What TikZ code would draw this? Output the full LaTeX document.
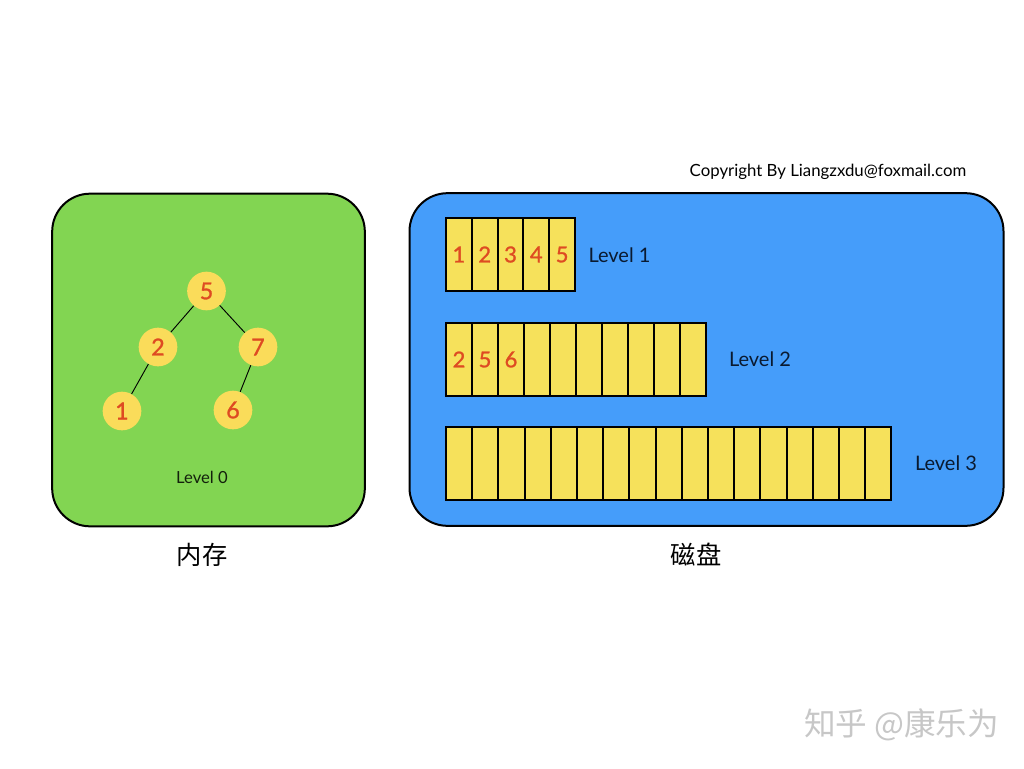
\documentclass[tikz,border=0pt]{standalone}
\usepackage{fontspec}
\setmainfont{Lato}
\newfontfamily\cjk{Noto Sans CJK SC}
\newfontfamily\numfont[FakeBold=1.2]{Lato}
\usetikzlibrary{positioning}
\definecolor{memgreen}{HTML}{82D552}
\definecolor{diskblue}{HTML}{459DFA}
\definecolor{celly}{HTML}{F6E15B}
\definecolor{nodey}{HTML}{FADC5A}
\definecolor{numred}{HTML}{DE4B22}
\definecolor{leveltxt}{HTML}{0A1A30}
\tikzset{panel/.style={rectangle,draw,line width=1.5pt,rounded corners=28.5pt,inner sep=0pt}}
\tikzset{cell/.style={rectangle,draw,line width=1.4pt,fill=celly,inner sep=0pt,minimum height=54.8pt,text=numred,font=\numfont\fontsize{16.5}{18}\selectfont}}
\tikzset{nd/.style={circle,fill=nodey,inner sep=0pt,minimum size=29pt,text=numred,font=\numfont\fontsize{17.5}{19}\selectfont}}
\tikzset{lvl/.style={inner sep=0pt,text=leveltxt,font=\fontsize{15}{17}\selectfont}}
\tikzset{title/.style={inner sep=0pt,font=\cjk\fontsize{19}{22}\selectfont}}
\begin{document}
\begin{tikzpicture}[x=0.75pt,y=-0.75pt]
  \useasboundingbox (0,0) rectangle (1024,768);

  \def\x{446};

  % panels
  \node[panel,fill=memgreen,minimum width=234.5pt,minimum height=249.5pt] (mem) at (208.5,360) {};
  \node[panel,fill=diskblue,minimum width=445.5pt,minimum height=249.5pt] (disk) at (706.5,359.5) {};

  % tree
  \node[nd] (n5) at (206.5,291) {5};
  \node[nd] (n2) at (158,347) {2};
  \node[nd] (n7) at (258,347) {7};
  \node[nd] (n1) at (122,411) {1};
  \node[nd] (n6) at (233,410) {6};
  \foreach \a/\b in {n5/n2,n5/n7,n2/n1,n7/n6} {
    \draw[line width=0.7pt] (\a) -- (\b);
  }
  \node[lvl,font=\fontsize{12.5}{14}\selectfont,text=black!85!memgreen] (lv0) at (202,477) {Level 0};

  % levels on disk
  \foreach \i/\num in {0/1,1/2,2/3,3/4,4/5} {
    \node[cell,minimum width=19.35pt] (a\i) at (\x+\i*25.8+12.9,254.5) {\num};
  }
  \foreach \i/\num in {0/2,1/5,2/6,3/,4/,5/,6/,7/,8/,9/} {
    \node[cell,minimum width=19.5pt] (b\i) at (\x+\i*26+13,359.5) {\num};
  }
  \foreach \i in {0,...,16} {
    \node[cell,minimum width=19.65pt] (c\i) at (\x+\i*26.2+13.1,463.5) {};
  }
  \node[lvl] (lv1) at (619.5,255) {Level 1};
  \node[lvl] (lv2) at (760,359) {Level 2};
  \node[lvl] (lv3) at (946,463.5) {Level 3};

  % captions
  \node[title] (memcap) at (202,555) {内存};
  \node[title] (diskcap) at (696,555) {磁盘};
  \node[lvl,text=black,font=\fontsize{12.6}{14}\selectfont] (copy) at (828,172) {Copyright By Liangzxdu@foxmail.com};
  \node[inner sep=0pt,text=black!22,font=\cjk\fontsize{23.7}{26}\selectfont] (mark) at (901.5,725) {知乎 @康乐为};
\end{tikzpicture}
\end{document}
